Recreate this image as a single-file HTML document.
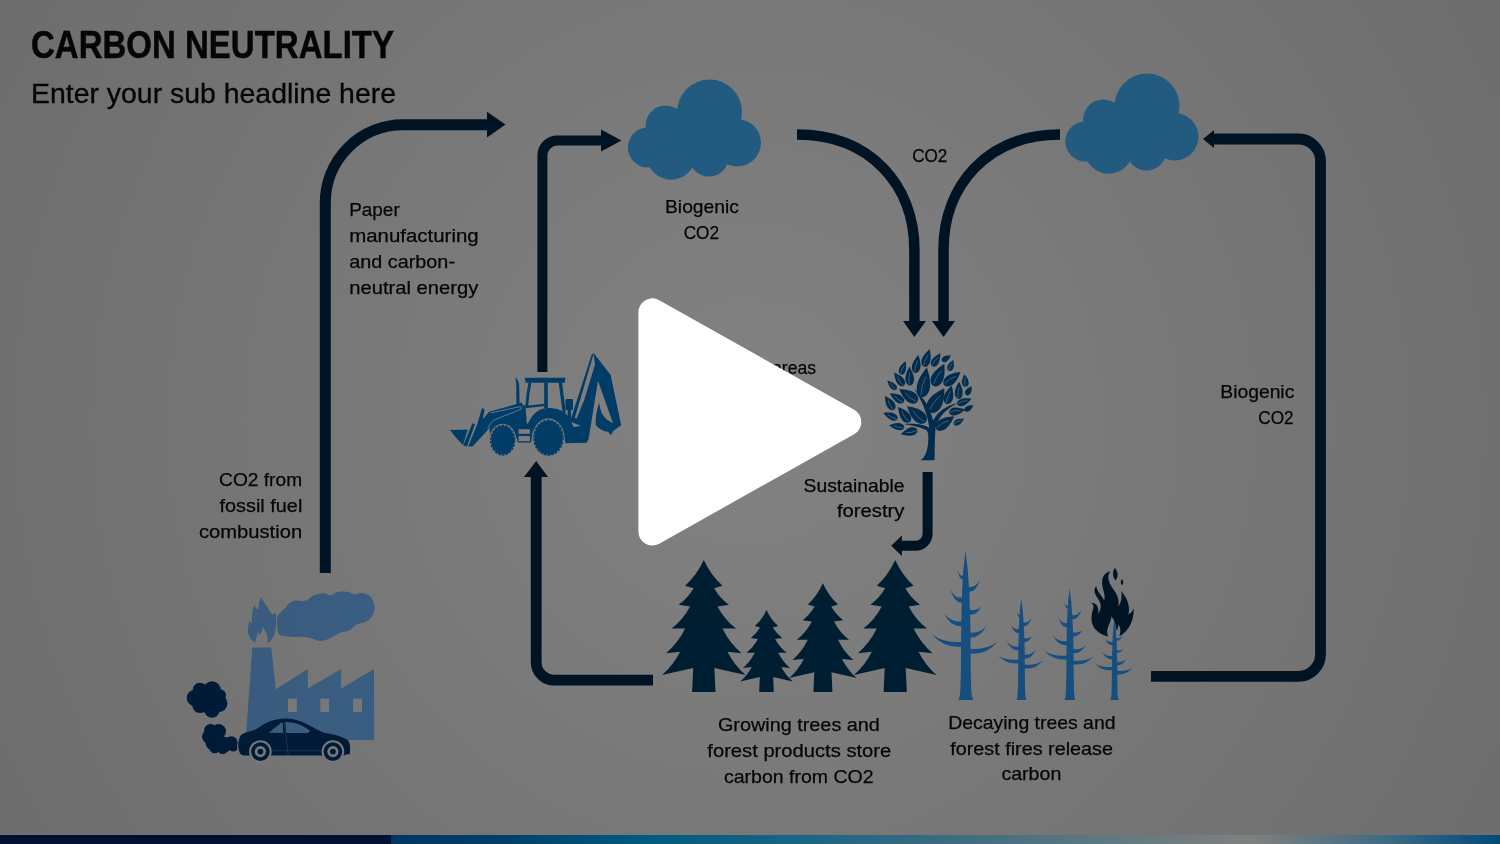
<!DOCTYPE html>
<html lang="en"><head><meta charset="utf-8"><title>Carbon Neutrality</title>
<style>html,body{margin:0;padding:0;background:#7a7a7a;overflow:hidden}svg{display:block}text{font-family:"Liberation Sans",sans-serif}</style>
</head><body>
<svg width="1500" height="844" viewBox="0 0 1500 844">
<defs>
<radialGradient id="bg" cx="750" cy="422" r="860" gradientUnits="userSpaceOnUse">
<stop offset="0" stop-color="#808080"/><stop offset="0.1" stop-color="#808080"/><stop offset="1" stop-color="#6d6d6d"/>
</radialGradient>
<filter id="nf" x="0" y="0" width="1500" height="844" filterUnits="userSpaceOnUse"><feOffset dx="0" dy="0"/></filter>
<linearGradient id="bar" x1="0" x2="1" y1="0" y2="0">
<stop offset="0" stop-color="#003564"/><stop offset="0.1" stop-color="#003f6b"/><stop offset="0.225" stop-color="#005a80"/><stop offset="0.37" stop-color="#1a6585"/><stop offset="0.5" stop-color="#3a6c80"/><stop offset="0.64" stop-color="#5f7880"/><stop offset="0.775" stop-color="#7f8080"/><stop offset="0.9" stop-color="#3d6a82"/><stop offset="1" stop-color="#004a7a"/>
</linearGradient>
<linearGradient id="fg" gradientUnits="userSpaceOnUse" x1="245" x2="375" y1="0" y2="0">
<stop offset="0" stop-color="#385b7e"/><stop offset="1" stop-color="#3a5e81"/>
</linearGradient>
</defs>
<rect width="1500" height="844" fill="url(#bg)"/>
<path d="M325.3 573 V202.7 A78 78 0 0 1 403.3 124.7 H488" fill="none" stroke="#001322" stroke-width="11"/>
<polygon points="487,111.7 505.5,124.6 487,137.5" fill="#001322"/>
<path d="M542.4 372 V155.5 A15 15 0 0 1 557.4 140.5 H602" fill="none" stroke="#001322" stroke-width="10"/>
<polygon points="601,129.5 621.5,140.5 601,151.5" fill="#001322"/>
<path d="M653 680.2 H554.2 A18 18 0 0 1 536.2 662.2 V476" fill="none" stroke="#001322" stroke-width="10.8"/>
<polygon points="524,477 536.2,461 548,477" fill="#001322"/>
<path d="M797 134.6 C870 134.6 914.4 185 914.4 250 V322" fill="none" stroke="#001322" stroke-width="10.5"/>
<polygon points="903,321 926,321 914.4,337" fill="#001322"/>
<path d="M1060 134.6 C988 134.6 943.5 185 943.5 250 V322" fill="none" stroke="#001322" stroke-width="10.5"/>
<polygon points="932,321 955,321 943.5,337" fill="#001322"/>
<path d="M927.6 472 V533.8 A12 12 0 0 1 915.6 545.8 H901" fill="none" stroke="#001322" stroke-width="10"/>
<polygon points="901.9,535.6 891.2,545.8 901.9,556" fill="#001322"/>
<path d="M1151 676.3 H1298.5 A22 22 0 0 0 1320.5 654.3 V161 A22 22 0 0 0 1298.5 139 H1213" fill="none" stroke="#001322" stroke-width="10.8"/>
<polygon points="1214,130 1203,139 1214,148" fill="#001322"/>
<g fill="#225b7f" transform="translate(0 0)"><circle cx="709.6" cy="112" r="32.4"/><circle cx="665.5" cy="125.5" r="19.9"/><circle cx="647.7" cy="147.5" r="19.9"/><circle cx="737.3" cy="142.8" r="23.7"/><circle cx="671.2" cy="155.3" r="24.4"/><circle cx="708.9" cy="156.7" r="19.9"/><circle cx="690" cy="135" r="30"/></g>
<g fill="#225b7f" transform="translate(437.5 -6)"><circle cx="709.6" cy="112" r="32.4"/><circle cx="665.5" cy="125.5" r="19.9"/><circle cx="647.7" cy="147.5" r="19.9"/><circle cx="737.3" cy="142.8" r="23.7"/><circle cx="671.2" cy="155.3" r="24.4"/><circle cx="708.9" cy="156.7" r="19.9"/><circle cx="690" cy="135" r="30"/></g>
<g fill="#013c66"><path d="M450.0 430.0 L467.7 429.6 L463.0 444.9 Q457.1 439.5 450.0 430.0 Z"/><path d="M463.2 445.5 L472.4 423.2 L475.0 424.2 L467.0 446.4 Z"/><path d="M468.2 446.4 L477.3 423.9 L482.1 407.7 L484.6 409.7 L482.7 419.6 L489.1 411.8 L521.8 402.6 L523.9 409.0 L494.0 421.0 L486.9 431.0 L472.4 446.6 Z"/><path d="M489.1 419.6 L519.6 406.8 L525.3 404.7 L527.0 425.3 L525.7 425.3 L528.5 422.5 Q535.6 406.8 550.6 408.0 Q565.5 409.0 570.0 419.6 L571.9 417.5 L581.1 419.6 L588.2 439.5 L586.8 442.7 L565.5 443.2 L562.7 431.0 L532.8 431.0 L531.0 442.4 L517.9 442.4 L516.8 438.1 L490.0 438.1 Z"/><path d="M515.1 377.3 Q518.5 379.8 519.1 384.1 L519.6 404.3 L516.5 405.1 L516.2 382.7 Z"/><path d="M524.7 377.8 L565.5 377.8 L564.6 382.7 L525.7 382.7 Z"/><path d="M528.5 382.4 L531.4 382.4 Q528.8 394.0 528.2 406.8 L525.4 407.4 Q526.0 394.0 528.5 382.4 Z"/><path d="M544.2 382.4 L547.7 382.4 L547.9 408.2 L544.2 408.2 Z"/><path d="M558.7 382.4 L562.1 382.4 L565.8 412.5 L562.7 413.2 Z"/><path d="M525.7 405.7 L545.3 403.7 L545.3 406.0 L525.7 408.2 Z"/><rect x="565.5" y="398.9" width="7.5" height="11.1" rx="1.2"/><path d="M567.6 409.4 L570.8 409.4 L571.2 420.3 L567.6 420.3 Z"/><path d="M571.2 417.9 L591.9 353.9 L593.5 354.2 L574.5 418.9 Z"/><path d="M593.2 352.5 L611.0 375.5 L610.4 382.7 L597.9 380.9 L588.5 439.8 L576.9 431.0 L576.2 419.6 L584.3 399.7 L595.1 364.2 Z"/><path d="M597.9 380.5 L610.7 375.5 L621.2 425.3 L613.1 431.0 L611.0 435.0 L607.9 431.7 Q599.6 431.0 595.6 424.6 Q595.4 413.9 599.1 402.8 Q600.3 413.9 606.7 419.6 L613.1 423.6 Z"/></g><g fill="#7e7e7e"><path d="M518.6 429.2 L529.9 429.2 L529.9 433.8 L518.6 433.8 Z"/><path d="M518.6 436.1 L529.9 436.1 L529.9 441.2 L518.6 441.2 Z"/><path d="M571.2 421.9 L581.1 425.9 L573.7 427.0 Z"/></g><path d="M490.7 412.9 L520.7 406.5 Q522.3 407.6 521 409.2 L493.1 420.3 L487.8 427.7" fill="none" stroke="#7f97a8" stroke-width="0.7" stroke-linejoin="round"/><ellipse cx="502.7" cy="440.2" rx="13.55" ry="16.40" fill="#7e7e7e"/><ellipse cx="502.7" cy="440.2" rx="11.45" ry="14.30" fill="#013c66"/><ellipse cx="502.7" cy="440.2" rx="11.95" ry="14.80" fill="none" stroke="#013c66" stroke-width="1.4" stroke-dasharray="2.76 1.07"/><ellipse cx="548.4" cy="437.7" rx="16.20" ry="19.10" fill="#7e7e7e"/><ellipse cx="548.4" cy="437.7" rx="14.10" ry="17.00" fill="#013c66"/><ellipse cx="548.4" cy="437.7" rx="14.60" ry="17.50" fill="none" stroke="#013c66" stroke-width="1.4" stroke-dasharray="2.80 1.09"/>
<g fill="#012c4e"><g transform="translate(926.8 358.0) rotate(18)"><path d="M0 -9.16 C2.44 -5.04 4.80 0.00 4.22 4.12 C3.55 8.24 1.33 9.16 0 9.16 C-1.33 9.16 -3.55 8.24 -4.22 4.12 C-4.80 0.00 -2.44 -5.04 0 -9.16 Z"/><path d="M-0.67 7.79 Q-1.56 1.83 0.22 -3.21" fill="none" stroke="#6f8796" stroke-width="0.5" stroke-linecap="round"/></g><g transform="translate(916.7 364.0) rotate(10)"><path d="M0 -9.16 C2.44 -5.04 4.80 0.00 4.22 4.12 C3.55 8.24 1.33 9.16 0 9.16 C-1.33 9.16 -3.55 8.24 -4.22 4.12 C-4.80 0.00 -2.44 -5.04 0 -9.16 Z"/><path d="M-0.67 7.79 Q-1.56 1.83 0.22 -3.21" fill="none" stroke="#6f8796" stroke-width="0.5" stroke-linecap="round"/></g><g transform="translate(936.3 359.8) rotate(32)"><path d="M0 -7.63 C2.12 -4.20 4.16 0.00 3.66 3.44 C3.08 6.87 1.16 7.63 0 7.63 C-1.16 7.63 -3.08 6.87 -3.66 3.44 C-4.16 0.00 -2.12 -4.20 0 -7.63 Z"/><path d="M-0.58 6.49 Q-1.35 1.53 0.19 -2.67" fill="none" stroke="#6f8796" stroke-width="0.5" stroke-linecap="round"/></g><g transform="translate(946.4 358.3) rotate(58)"><path d="M0 -5.19 C1.63 -2.86 3.20 0.00 2.81 2.34 C2.37 4.67 0.89 5.19 0 5.19 C-0.89 5.19 -2.37 4.67 -2.81 2.34 C-3.20 0.00 -1.63 -2.86 0 -5.19 Z"/></g><g transform="translate(951.1 365.5) rotate(22)"><path d="M0 -5.80 C1.79 -3.19 3.52 0.00 3.10 2.61 C2.61 5.22 0.98 5.80 0 5.80 C-0.98 5.80 -2.61 5.22 -3.10 2.61 C-3.52 0.00 -1.79 -3.19 0 -5.80 Z"/><path d="M-0.49 4.93 Q-1.14 1.16 0.16 -2.03" fill="none" stroke="#6f8796" stroke-width="0.5" stroke-linecap="round"/></g><g transform="translate(903.1 367.9) rotate(20)"><path d="M0 -7.02 C1.95 -3.86 3.84 0.00 3.38 3.16 C2.84 6.32 1.07 7.02 0 7.02 C-1.07 7.02 -2.84 6.32 -3.38 3.16 C-3.84 0.00 -1.95 -3.86 0 -7.02 Z"/><path d="M-0.53 5.97 Q-1.24 1.40 0.18 -2.46" fill="none" stroke="#6f8796" stroke-width="0.5" stroke-linecap="round"/></g><g transform="translate(909.6 376.2) rotate(-2)"><path d="M0 -9.47 C2.44 -5.21 4.80 0.00 4.22 4.26 C3.55 8.52 1.33 9.47 0 9.47 C-1.33 9.47 -3.55 8.52 -4.22 4.26 C-4.80 0.00 -2.44 -5.21 0 -9.47 Z"/><path d="M-0.67 8.05 Q-1.56 1.89 0.22 -3.31" fill="none" stroke="#6f8796" stroke-width="0.5" stroke-linecap="round"/></g><g transform="translate(899.0 379.1) rotate(-36)"><path d="M0 -8.24 C2.22 -4.53 4.35 0.00 3.83 3.71 C3.22 7.42 1.21 8.24 0 8.24 C-1.21 8.24 -3.22 7.42 -3.83 3.71 C-4.35 0.00 -2.22 -4.53 0 -8.24 Z"/><path d="M-0.60 7.01 Q-1.41 1.65 0.20 -2.89" fill="none" stroke="#6f8796" stroke-width="0.5" stroke-linecap="round"/></g><g transform="translate(891.8 385.0) rotate(-45)"><path d="M0 -6.41 C1.69 -3.53 3.33 0.00 2.93 2.89 C2.46 5.77 0.92 6.41 0 6.41 C-0.92 6.41 -2.46 5.77 -2.93 2.89 C-3.33 0.00 -1.69 -3.53 0 -6.41 Z"/><path d="M-0.46 5.45 Q-1.08 1.28 0.15 -2.24" fill="none" stroke="#6f8796" stroke-width="0.5" stroke-linecap="round"/></g><g transform="translate(924.2 382.3) rotate(10)"><path d="M0 -14.96 C3.75 -8.23 7.36 0.00 6.47 6.73 C5.45 13.47 2.04 14.96 0 14.96 C-2.04 14.96 -5.45 13.47 -6.47 6.73 C-7.36 0.00 -3.75 -8.23 0 -14.96 Z"/><path d="M-1.02 12.72 Q-2.38 2.99 0.34 -5.24" fill="none" stroke="#6f8796" stroke-width="0.5" stroke-linecap="round"/></g><g transform="translate(938.9 375.0) rotate(26)"><path d="M0 -12.21 C3.42 -6.72 6.72 0.00 5.91 5.50 C4.98 10.99 1.87 12.21 0 12.21 C-1.87 12.21 -4.98 10.99 -5.91 5.50 C-6.72 0.00 -3.42 -6.72 0 -12.21 Z"/><path d="M-0.93 10.38 Q-2.18 2.44 0.31 -4.28" fill="none" stroke="#6f8796" stroke-width="0.5" stroke-linecap="round"/></g><g transform="translate(952.3 378.5) rotate(52)"><path d="M0 -10.38 C2.87 -5.71 5.63 0.00 4.95 4.67 C4.17 9.34 1.56 10.38 0 10.38 C-1.56 10.38 -4.17 9.34 -4.95 4.67 C-5.63 0.00 -2.87 -5.71 0 -10.38 Z"/><path d="M-0.78 8.83 Q-1.82 2.08 0.26 -3.63" fill="none" stroke="#6f8796" stroke-width="0.5" stroke-linecap="round"/></g><g transform="translate(965.1 380.5) rotate(-6)"><path d="M0 -6.41 C1.95 -3.53 3.84 0.00 3.38 2.89 C2.84 5.77 1.07 6.41 0 6.41 C-1.07 6.41 -2.84 5.77 -3.38 2.89 C-3.84 0.00 -1.95 -3.53 0 -6.41 Z"/><path d="M-0.53 5.45 Q-1.24 1.28 0.18 -2.24" fill="none" stroke="#6f8796" stroke-width="0.5" stroke-linecap="round"/></g><g transform="translate(958.8 390.4) rotate(2)"><path d="M0 -8.55 C2.22 -4.70 4.35 0.00 3.83 3.85 C3.22 7.70 1.21 8.55 0 8.55 C-1.21 8.55 -3.22 7.70 -3.83 3.85 C-4.35 0.00 -2.22 -4.70 0 -8.55 Z"/><path d="M-0.60 7.27 Q-1.41 1.71 0.20 -2.99" fill="none" stroke="#6f8796" stroke-width="0.5" stroke-linecap="round"/></g><g transform="translate(968.9 390.6) rotate(32)"><path d="M0 -5.19 C1.63 -2.86 3.20 0.00 2.81 2.34 C2.37 4.67 0.89 5.19 0 5.19 C-0.89 5.19 -2.37 4.67 -2.81 2.34 C-3.20 0.00 -1.63 -2.86 0 -5.19 Z"/></g><g transform="translate(949.1 394.8) rotate(15)"><path d="M0 -9.47 C2.67 -5.21 5.25 0.00 4.61 4.26 C3.89 8.52 1.46 9.47 0 9.47 C-1.46 9.47 -3.89 8.52 -4.61 4.26 C-5.25 0.00 -2.67 -5.21 0 -9.47 Z"/><path d="M-0.73 8.05 Q-1.70 1.89 0.24 -3.31" fill="none" stroke="#6f8796" stroke-width="0.5" stroke-linecap="round"/></g><g transform="translate(936.9 400.1) rotate(32)"><path d="M0 -14.05 C4.07 -7.73 8.00 0.00 7.03 6.32 C5.92 12.64 2.22 14.05 0 14.05 C-2.22 14.05 -5.92 12.64 -7.03 6.32 C-8.00 0.00 -4.07 -7.73 0 -14.05 Z"/><path d="M-1.11 11.94 Q-2.59 2.81 0.37 -4.92" fill="none" stroke="#6f8796" stroke-width="0.5" stroke-linecap="round"/></g><g transform="translate(908.4 395.4) rotate(-56)"><path d="M0 -10.99 C3.19 -6.05 6.27 0.00 5.52 4.95 C4.64 9.89 1.74 10.99 0 10.99 C-1.74 10.99 -4.64 9.89 -5.52 4.95 C-6.27 0.00 -3.19 -6.05 0 -10.99 Z"/><path d="M-0.87 9.34 Q-2.03 2.20 0.29 -3.85" fill="none" stroke="#6f8796" stroke-width="0.5" stroke-linecap="round"/></g><g transform="translate(896.8 397.7) rotate(-58)"><path d="M0 -8.24 C2.22 -4.53 4.35 0.00 3.83 3.71 C3.22 7.42 1.21 8.24 0 8.24 C-1.21 8.24 -3.22 7.42 -3.83 3.71 C-4.35 0.00 -2.22 -4.53 0 -8.24 Z"/><path d="M-0.60 7.01 Q-1.41 1.65 0.20 -2.89" fill="none" stroke="#6f8796" stroke-width="0.5" stroke-linecap="round"/></g><g transform="translate(889.5 402.8) rotate(-33)"><path d="M0 -8.24 C2.35 -4.53 4.61 0.00 4.05 3.71 C3.41 7.42 1.28 8.24 0 8.24 C-1.28 8.24 -3.41 7.42 -4.05 3.71 C-4.61 0.00 -2.35 -4.53 0 -8.24 Z"/><path d="M-0.64 7.01 Q-1.49 1.65 0.21 -2.89" fill="none" stroke="#6f8796" stroke-width="0.5" stroke-linecap="round"/></g><g transform="translate(964.4 401.5) rotate(68)"><path d="M0 -7.63 C2.02 -4.20 3.97 0.00 3.49 3.44 C2.94 6.87 1.10 7.63 0 7.63 C-1.10 7.63 -2.94 6.87 -3.49 3.44 C-3.97 0.00 -2.02 -4.20 0 -7.63 Z"/><path d="M-0.55 6.49 Q-1.29 1.53 0.18 -2.67" fill="none" stroke="#6f8796" stroke-width="0.5" stroke-linecap="round"/></g><g transform="translate(969.1 408.0) rotate(58)"><path d="M0 -5.19 C1.50 -2.86 2.94 0.00 2.59 2.34 C2.18 4.67 0.82 5.19 0 5.19 C-0.82 5.19 -2.18 4.67 -2.59 2.34 C-2.94 0.00 -1.50 -2.86 0 -5.19 Z"/></g><g transform="translate(957.3 411.0) rotate(80)"><path d="M0 -8.24 C2.22 -4.53 4.35 0.00 3.83 3.71 C3.22 7.42 1.21 8.24 0 8.24 C-1.21 8.24 -3.22 7.42 -3.83 3.71 C-4.35 0.00 -2.22 -4.53 0 -8.24 Z"/><path d="M-0.60 7.01 Q-1.41 1.65 0.20 -2.89" fill="none" stroke="#6f8796" stroke-width="0.5" stroke-linecap="round"/></g><g transform="translate(916.4 414.1) rotate(-50)"><path d="M0 -12.21 C3.42 -6.72 6.72 0.00 5.91 5.50 C4.98 10.99 1.87 12.21 0 12.21 C-1.87 12.21 -4.98 10.99 -5.91 5.50 C-6.72 0.00 -3.42 -6.72 0 -12.21 Z"/><path d="M-0.93 10.38 Q-2.18 2.44 0.31 -4.28" fill="none" stroke="#6f8796" stroke-width="0.5" stroke-linecap="round"/></g><g transform="translate(903.9 414.5) rotate(-38)"><path d="M0 -9.47 C2.67 -5.21 5.25 0.00 4.61 4.26 C3.89 8.52 1.46 9.47 0 9.47 C-1.46 9.47 -3.89 8.52 -4.61 4.26 C-5.25 0.00 -2.67 -5.21 0 -9.47 Z"/><path d="M-0.73 8.05 Q-1.70 1.89 0.24 -3.31" fill="none" stroke="#6f8796" stroke-width="0.5" stroke-linecap="round"/></g><g transform="translate(890.4 415.9) rotate(-68)"><path d="M0 -7.63 C2.02 -4.20 3.97 0.00 3.49 3.44 C2.94 6.87 1.10 7.63 0 7.63 C-1.10 7.63 -2.94 6.87 -3.49 3.44 C-3.97 0.00 -2.02 -4.20 0 -7.63 Z"/><path d="M-0.55 6.49 Q-1.29 1.53 0.18 -2.67" fill="none" stroke="#6f8796" stroke-width="0.5" stroke-linecap="round"/></g><g transform="translate(945.2 422.6) rotate(55)"><path d="M0 -10.99 C3.00 -6.05 5.89 0.00 5.18 4.95 C4.36 9.89 1.64 10.99 0 10.99 C-1.64 10.99 -4.36 9.89 -5.18 4.95 C-5.89 0.00 -3.00 -6.05 0 -10.99 Z"/><path d="M-0.82 9.34 Q-1.91 2.20 0.27 -3.85" fill="none" stroke="#6f8796" stroke-width="0.5" stroke-linecap="round"/></g><g transform="translate(959.0 421.5) rotate(62)"><path d="M0 -5.80 C1.69 -3.19 3.33 0.00 2.93 2.61 C2.46 5.22 0.92 5.80 0 5.80 C-0.92 5.80 -2.46 5.22 -2.93 2.61 C-3.33 0.00 -1.69 -3.19 0 -5.80 Z"/><path d="M-0.46 4.93 Q-1.08 1.16 0.15 -2.03" fill="none" stroke="#6f8796" stroke-width="0.5" stroke-linecap="round"/></g><g transform="translate(896.6 426.4) rotate(-82)"><path d="M0 -7.63 C2.02 -4.20 3.97 0.00 3.49 3.44 C2.94 6.87 1.10 7.63 0 7.63 C-1.10 7.63 -2.94 6.87 -3.49 3.44 C-3.97 0.00 -2.02 -4.20 0 -7.63 Z"/><path d="M-0.55 6.49 Q-1.29 1.53 0.18 -2.67" fill="none" stroke="#6f8796" stroke-width="0.5" stroke-linecap="round"/></g><g transform="translate(909.0 432.1) rotate(-105)"><path d="M0 -8.55 C2.35 -4.70 4.61 0.00 4.05 3.85 C3.41 7.70 1.28 8.55 0 8.55 C-1.28 8.55 -3.41 7.70 -4.05 3.85 C-4.61 0.00 -2.35 -4.70 0 -8.55 Z"/><path d="M-0.64 7.27 Q-1.49 1.71 0.21 -2.99" fill="none" stroke="#6f8796" stroke-width="0.5" stroke-linecap="round"/></g><path d="M920.5 460.2 C925.6 457.6 928.0 449.3 928.3 439.8 C928.6 435.0 928.0 432.1 926.8 430.5 C921.5 427.6 913.2 425.8 903.7 424.1 C914.4 423.0 923.8 424.4 929.2 427.7 C928.0 416.1 922.7 400.7 913.8 388.8 C923.8 397.1 930.9 409.0 933.1 420.8 C936.9 412.5 946.4 405.4 958.2 403.1 C947.5 408.0 938.6 416.1 935.5 427.9 C934.7 439.8 934.7 451.6 934.6 460.2 Z"/></g>
<path d="M703.8 560.1 Q710.9 575.5 722.5 585.8 L714.1 588.3 Q719.7 598.2 728.9 604.8 L717.5 606.4 Q724.6 619.7 736.1 628.6 L722.5 628.6 Q729.7 643.3 741.5 653.2 L727.5 651.8 Q734.4 665.7 745.6 674.9 L714.4 667.9 L715.5 692.1 L692.1 692.1 L693.2 667.9 L662.0 674.9 Q673.2 665.7 680.1 651.8 L680.1 651.8 L666.1 653.2 Q677.9 643.3 685.1 628.6 L685.1 628.6 L671.5 628.6 Q683.0 619.7 690.1 606.4 L690.1 606.4 L678.7 604.8 Q687.9 598.2 693.5 588.3 L693.5 588.3 L685.1 585.8 Q696.7 575.5 703.8 560.1 Z" fill="#001e32"/>
<path d="M766.5 610.1 Q770.9 619.7 778.2 626.1 L772.9 627.6 Q776.5 633.8 782.2 637.9 L775.1 638.9 Q779.5 647.1 786.8 652.7 L778.2 652.7 Q782.7 661.8 790.1 667.9 L781.3 667.1 Q785.7 675.7 792.7 681.4 L773.2 677.1 L773.8 692.1 L759.2 692.1 L759.8 677.1 L740.3 681.4 Q747.3 675.7 751.7 667.1 L751.7 667.1 L742.9 667.9 Q750.3 661.8 754.8 652.7 L754.8 652.7 L746.2 652.7 Q753.5 647.1 757.9 638.9 L757.9 638.9 L750.8 637.9 Q756.5 633.8 760.1 627.6 L760.1 627.6 L754.8 626.1 Q762.1 619.7 766.5 610.1 Z" fill="#001e32"/>
<path d="M822.9 583.3 Q828.6 596.0 838.0 604.5 L831.2 606.6 Q835.8 614.7 843.2 620.2 L834.0 621.5 Q839.7 632.5 849.0 639.8 L838.0 639.8 Q843.8 651.9 853.4 660.0 L842.0 658.9 Q847.6 670.3 856.7 678.0 L831.5 672.2 L832.4 692.1 L813.4 692.1 L814.3 672.2 L789.1 678.0 Q798.2 670.3 803.8 658.9 L803.8 658.9 L792.4 660.0 Q802.0 651.9 807.8 639.8 L807.8 639.8 L796.8 639.8 Q806.1 632.5 811.8 621.5 L811.8 621.5 L802.6 620.2 Q810.0 614.7 814.6 606.6 L814.6 606.6 L807.8 604.5 Q817.2 596.0 822.9 583.3 Z" fill="#001e32"/>
<path d="M895.2 560.1 Q902.2 575.5 913.6 585.8 L905.3 588.3 Q910.9 598.2 920.0 604.8 L908.7 606.4 Q915.7 619.7 927.1 628.6 L913.6 628.6 Q920.8 643.3 932.5 653.2 L918.6 651.8 Q925.4 665.7 936.5 674.9 L905.7 667.9 L906.8 692.1 L883.6 692.1 L884.7 667.9 L853.9 674.9 Q865.0 665.7 871.8 651.8 L871.8 651.8 L857.9 653.2 Q869.6 643.3 876.8 628.6 L876.8 628.6 L863.3 628.6 Q874.7 619.7 881.7 606.4 L881.7 606.4 L870.4 604.8 Q879.5 598.2 885.1 588.3 L885.1 588.3 L876.8 585.8 Q888.2 575.5 895.2 560.1 Z" fill="#001e32"/>
<path d="M965.5 551.1 L967.7 569.0 L969.3 592.8 L970.4 625.6 L970.7 670.3 L971.2 689.6 Q971.6 697.1 973.4 700.1 H958.3 Q960.0 697.1 960.4 689.6 L960.9 670.3 L961.2 625.6 L962.0 592.8 L963.4 569.0 Z" fill="#164e80"/><path d="M965.8 575.6 L962.7 575.6 Q959.4 576.9 957.2 568.2 Q959.4 580.3 962.7 578.9 L965.8 578.9 Z" fill="#164e80"/><path d="M965.8 597.6 L961.9 597.6 Q954.9 599.0 950.2 589.3 Q954.9 603.8 961.9 602.4 L965.8 602.4 Z" fill="#164e80"/><path d="M965.8 621.2 L961.5 621.2 Q951.1 622.6 944.2 613.5 Q951.1 627.4 961.5 626.0 L965.8 626.0 Z" fill="#164e80"/><path d="M965.8 641.9 L961.1 641.9 Q943.7 643.3 932.1 634.6 Q943.7 648.1 961.1 646.7 L965.8 646.7 Z" fill="#164e80"/><path d="M965.8 586.9 L968.3 586.9 Q975.6 588.4 980.4 579.3 Q975.6 593.2 968.3 591.7 L965.8 591.7 Z" fill="#164e80"/><path d="M965.8 609.7 L968.9 609.7 Q976.4 611.1 981.4 606.4 Q976.4 615.9 968.9 614.5 L965.8 614.5 Z" fill="#164e80"/><path d="M965.8 632.6 L969.5 632.6 Q979.7 634.1 986.4 625.6 Q979.7 638.9 969.5 637.4 L965.8 637.4 Z" fill="#164e80"/><path d="M965.8 648.7 L969.9 648.7 Q986.5 650.2 997.5 641.7 Q986.5 655.0 969.9 653.5 L965.8 653.5 Z" fill="#164e80"/><path d="M1021.3 598.4 L1022.8 610.6 L1023.9 626.9 L1024.7 649.2 L1024.9 679.7 L1025.2 692.9 Q1025.5 697.1 1026.3 700.1 H1016.6 Q1017.5 697.1 1017.7 692.9 L1018.1 679.7 L1018.3 649.2 L1018.9 626.9 L1019.8 610.6 Z" fill="#164e80"/><path d="M1021.5 614.8 L1020.1 614.8 Q1018.0 616.1 1016.6 610.5 Q1018.0 618.8 1020.1 617.4 L1021.5 617.4 Z" fill="#164e80"/><path d="M1021.5 629.1 L1019.3 629.1 Q1014.3 630.5 1011.0 624.6 Q1014.3 634.3 1019.3 632.9 L1021.5 632.9 Z" fill="#164e80"/><path d="M1021.5 646.4 L1018.9 646.4 Q1011.5 647.8 1006.6 640.7 Q1011.5 651.6 1018.9 650.2 L1021.5 650.2 Z" fill="#164e80"/><path d="M1021.5 659.5 L1018.7 659.5 Q1006.6 660.9 998.5 655.8 Q1006.6 664.7 1018.7 663.3 L1021.5 663.3 Z" fill="#164e80"/><path d="M1021.5 622.3 L1023.1 622.3 Q1028.3 623.6 1031.7 617.5 Q1028.3 627.4 1023.1 626.1 L1021.5 626.1 Z" fill="#164e80"/><path d="M1021.5 638.0 L1023.5 638.0 Q1028.4 639.3 1031.7 636.6 Q1028.4 643.1 1023.5 641.8 L1021.5 641.8 Z" fill="#164e80"/><path d="M1021.5 654.5 L1023.9 654.5 Q1031.0 655.9 1035.8 649.7 Q1031.0 659.7 1023.9 658.3 L1021.5 658.3 Z" fill="#164e80"/><path d="M1021.5 664.5 L1024.3 664.5 Q1035.4 665.9 1042.8 660.8 Q1035.4 669.7 1024.3 668.3 L1021.5 668.3 Z" fill="#164e80"/><path d="M1069.6 588.3 L1071.3 601.7 L1072.5 619.6 L1073.5 644.2 L1073.7 677.7 L1074.0 692.2 Q1074.3 697.1 1075.4 700.1 H1064.6 Q1065.6 697.1 1065.9 692.2 L1066.3 677.7 L1066.5 644.2 L1067.1 619.6 L1068.1 601.7 Z" fill="#164e80"/><path d="M1070.0 605.6 L1068.4 605.6 Q1065.7 607.0 1064.0 601.4 Q1065.7 609.8 1068.4 608.4 L1070.0 608.4 Z" fill="#164e80"/><path d="M1070.0 623.0 L1067.6 623.0 Q1062.0 624.4 1058.3 617.5 Q1062.0 628.4 1067.6 627.0 L1070.0 627.0 Z" fill="#164e80"/><path d="M1070.0 641.1 L1067.2 641.1 Q1058.6 642.5 1052.9 635.6 Q1058.6 646.5 1067.2 645.1 L1070.0 645.1 Z" fill="#164e80"/><path d="M1070.0 655.4 L1066.8 655.4 Q1053.4 656.8 1044.4 650.7 Q1053.4 660.8 1066.8 659.4 L1070.0 659.4 Z" fill="#164e80"/><path d="M1070.0 615.1 L1071.4 615.1 Q1077.6 616.5 1081.7 609.5 Q1077.6 620.5 1071.4 619.1 L1070.0 619.1 Z" fill="#164e80"/><path d="M1070.0 632.2 L1072.0 632.2 Q1078.0 633.6 1082.1 630.6 Q1078.0 637.6 1072.0 636.2 L1070.0 636.2 Z" fill="#164e80"/><path d="M1070.0 649.1 L1072.4 649.1 Q1080.6 650.5 1086.1 644.7 Q1080.6 654.5 1072.4 653.1 L1070.0 653.1 Z" fill="#164e80"/><path d="M1070.0 660.4 L1072.8 660.4 Q1085.3 661.8 1093.5 656.4 Q1085.3 665.8 1072.8 664.4 L1070.0 664.4 Z" fill="#164e80"/><path d="M1114.5 617.5 L1115.7 627.4 L1116.6 640.6 L1117.2 658.8 L1117.4 683.5 L1117.6 694.3 Q1117.8 697.1 1118.9 700.1 H1110.3 Q1111.3 697.1 1111.5 694.3 L1111.8 683.5 L1112.0 658.8 L1112.5 640.6 L1113.3 627.4 Z" fill="#164e80"/><path d="M1114.6 641.6 L1113.3 641.6 Q1108.4 643.0 1105.2 638.7 Q1108.4 646.4 1113.3 645.0 L1114.6 645.0 Z" fill="#164e80"/><path d="M1114.6 655.7 L1112.9 655.7 Q1106.5 657.0 1102.2 651.7 Q1106.5 660.4 1112.9 659.1 L1114.6 659.1 Z" fill="#164e80"/><path d="M1114.6 666.7 L1112.5 666.7 Q1102.1 668.1 1095.2 663.8 Q1102.1 671.5 1112.5 670.1 L1114.6 670.1 Z" fill="#164e80"/><path d="M1114.6 638.1 L1115.7 638.1 Q1120.3 639.4 1123.3 634.6 Q1120.3 641.8 1115.7 640.4 L1114.6 640.4 Z" fill="#164e80"/><path d="M1114.6 650.1 L1115.9 650.1 Q1120.4 651.5 1123.3 648.7 Q1120.4 653.8 1115.9 652.5 L1114.6 652.5 Z" fill="#164e80"/><path d="M1114.6 661.7 L1116.1 661.7 Q1122.3 663.1 1126.4 658.8 Q1122.3 666.5 1116.1 665.1 L1114.6 665.1 Z" fill="#164e80"/><path d="M1114.6 670.8 L1116.5 670.8 Q1126.0 672.1 1132.4 667.8 Q1126.0 675.5 1116.5 674.2 L1114.6 674.2 Z" fill="#164e80"/>
<path d="M1108.2 636.6 C1097.2 633.6 1089.1 626.6 1092.1 612.5 C1093.5 607.4 1094.8 605.4 1091.1 602.4 C1097.2 603.4 1099.2 607.4 1098.2 613.5 C1102.2 608.5 1101.2 602.4 1097.2 597.4 C1094.1 592.3 1093.5 589.3 1096.2 585.9 C1097.2 592.3 1102.2 595.4 1104.2 600.4 C1106.2 594.4 1101.2 588.3 1102.2 580.3 C1102.8 575.2 1106.2 572.2 1110.3 571.2 C1106.2 577.2 1109.2 583.3 1113.3 589.3 C1118.3 596.4 1119.3 600.4 1118.3 606.4 C1121.3 602.4 1122.3 597.4 1121.3 591.3 C1127.4 598.4 1130.4 606.4 1128.4 614.5 C1130.4 613.5 1132.4 611.5 1133.8 608.5 C1133.8 620.5 1129.4 630.6 1119.3 636.2 C1121.3 631.6 1120.3 626.6 1118.3 624.6 C1118.3 627.6 1117.3 629.6 1116.3 630.6 C1116.3 624.6 1114.3 619.5 1111.3 616.5 C1111.3 620.5 1109.2 623.6 1108.2 626.6 C1106.8 630.6 1106.8 633.6 1108.2 636.6 Z" fill="#001322"/><path d="M1114.9 567.8 C1118.3 572.2 1118.3 577.2 1115.7 580.3 C1112.3 577.2 1112.3 572.2 1114.9 567.8 Z" fill="#001322"/><path d="M1121.9 578.7 C1123.7 581.3 1123.7 583.9 1122.1 585.3 C1120.3 583.3 1120.5 580.9 1121.9 578.7 Z" fill="#001322"/>
<g fill="url(#fg)"><path d="M252.3 647.6 L271.3 647.6 L275.8 689.2 L307.8 668.9 L307.8 688.5 L341.1 668.9 L341.1 688.5 L374.0 668.9 L374.0 739.9 L245.7 739.9 Z"/><path d="M277.2 617.2 C277.8 614.8 279.4 613.6 280.8 612.0 C282.1 610.4 284.1 609.2 285.5 607.7 C286.9 606.3 287.7 604.7 289.3 603.5 C290.9 602.3 292.8 601.1 295.0 600.6 C297.2 600.2 300.4 601.1 302.6 600.9 C304.7 600.8 305.9 600.6 307.8 599.7 C309.7 598.7 311.3 596.3 313.9 595.2 C316.5 594.2 320.6 593.3 323.4 593.3 C326.3 593.3 328.5 595.5 331.0 595.2 C333.5 595.0 335.7 592.4 338.6 591.8 C341.4 591.3 345.5 591.6 348.1 592.0 C350.7 592.5 351.8 594.3 354.2 594.5 C356.6 594.6 359.5 592.6 362.3 593.0 C365.0 593.4 368.8 594.5 370.8 596.8 C372.9 599.2 374.4 603.6 374.6 606.8 C374.8 610.0 373.6 613.4 372.2 615.8 C370.9 618.3 369.1 620.0 366.5 621.5 C363.9 623.0 359.4 623.1 356.6 624.6 C353.7 626.1 352.3 629.1 349.5 630.5 C346.6 631.9 342.6 631.6 339.5 632.9 C336.4 634.1 334.2 636.5 331.0 637.9 C327.8 639.3 323.7 641.0 320.6 641.1 C317.4 641.2 315.0 639.4 312.0 638.6 C309.0 637.9 305.7 637.0 302.6 636.8 C299.4 636.5 296.1 637.0 293.1 636.9 C290.1 636.8 286.9 636.6 284.5 636.2 C282.2 635.7 280.1 635.9 278.9 634.3 C277.6 632.7 277.4 629.5 277.2 626.7 C276.9 623.9 276.6 619.7 277.2 617.2 Z"/><path d="M255.2 643.0 C249.5 639.0 246.6 632.4 248.3 626.7 C248.7 623.9 249.0 622.4 249.3 620.8 C250.2 622.4 251.2 622.9 252.1 622.9 C251.4 616.3 252.3 610.6 254.2 605.1 C255.2 607.7 256.6 609.2 258.2 609.8 C258.5 604.9 259.4 600.6 261.3 596.6 C263.2 603.0 268.4 607.7 271.8 613.9 C273.2 613.9 274.6 613.4 275.7 612.7 C276.8 621.0 276.5 629.5 273.6 636.2 C272.2 639.5 269.9 641.9 267.3 643.5 C268.9 638.1 266.5 632.4 262.6 626.5 C262.3 630.5 261.3 632.9 260.1 634.5 C259.4 633.8 258.8 633.2 258.0 632.2 C257.1 635.2 256.1 639.0 255.2 643.0 Z"/></g><g fill="#787878"><rect x="288.0" y="698.7" width="8.9" height="13.3"/><rect x="320.3" y="698.7" width="8.8" height="13.3"/><rect x="353.1" y="698.7" width="8.9" height="13.3"/></g>
<g fill="#001b38"><path d="M238.7 749.3 C237.6 744.7 238.7 739.3 240.3 736.0 C242.0 733.3 246.7 732.0 254.7 730.0 C258.7 728.0 262.0 725.3 266.0 723.1 C272.0 720.0 278.7 718.7 286.7 718.5 C294.7 718.7 301.3 721.3 308.0 724.7 C313.3 727.3 318.7 730.7 324.0 732.7 C332.0 733.7 340.0 735.6 346.7 739.3 C349.3 741.3 350.4 744.7 350.1 748.7 L349.9 754.0 L344.7 754.8 L344.7 755.6 L244.0 755.6 C240.7 755.3 239.3 752.7 238.7 749.3 Z"/><circle cx="200.0" cy="690.0" r="7.3"/><circle cx="212.0" cy="690.0" r="8.7"/><circle cx="194.7" cy="698.0" r="8.0"/><circle cx="206.7" cy="700.7" r="12.0"/><circle cx="218.7" cy="703.3" r="8.7"/><circle cx="212.0" cy="710.0" r="7.7"/><circle cx="200.0" cy="705.3" r="7.7"/><circle cx="220.0" cy="695.3" r="6.0"/><circle cx="210.7" cy="730.7" r="6.7"/><circle cx="218.7" cy="731.3" r="7.3"/><circle cx="208.7" cy="736.7" r="6.7"/><circle cx="214.7" cy="742.0" r="9.3"/><circle cx="224.0" cy="744.7" r="8.0"/><circle cx="231.3" cy="742.7" r="6.4"/><circle cx="222.7" cy="748.7" r="5.3"/><circle cx="233.3" cy="747.6" r="4.0"/><circle cx="214.7" cy="748.0" r="5.3"/></g><g fill="#395c7f"><path d="M268.7 732.7 L281.1 722.7 L282.7 722.4 L283.3 732.9 Z"/><path d="M285.3 722.0 C294.7 722.0 302.7 725.3 310.0 730.7 L308.3 732.9 L286.4 732.9 Z"/></g><path d="M284.3 722.3 L288.3 755.3" stroke="#2a4a6e" stroke-width="0.5" fill="none"/><path d="M272.0 750.7 L321.3 750.7" stroke="#2a4a6e" stroke-width="0.5" fill="none"/><circle cx="260.4" cy="751.6" r="11.3" fill="#787878"/><circle cx="260.4" cy="751.6" r="9.3" fill="#001b38"/><circle cx="260.4" cy="751.6" r="5.6" fill="#787878"/><circle cx="260.4" cy="751.6" r="2.9" fill="#001b38"/><circle cx="332.9" cy="751.6" r="11.3" fill="#787878"/><circle cx="332.9" cy="751.6" r="9.3" fill="#001b38"/><circle cx="332.9" cy="751.6" r="5.6" fill="#787878"/><circle cx="332.9" cy="751.6" r="2.9" fill="#001b38"/>
<g filter="url(#nf)" fill="#050505" stroke="#050505" font-family="'Liberation Sans', sans-serif"><text x="31" y="58.2" font-size="38" text-anchor="start" font-weight="bold" stroke-width="0.5" textLength="363" lengthAdjust="spacingAndGlyphs">CARBON NEUTRALITY</text><text x="31" y="103.3" font-size="27.5" text-anchor="start" font-weight="normal" stroke-width="0.3" textLength="365" lengthAdjust="spacingAndGlyphs">Enter your sub headline here</text><text x="349.2" y="215.6" font-size="19" text-anchor="start" font-weight="normal" stroke-width="0.25" textLength="50.5" lengthAdjust="spacingAndGlyphs">Paper</text><text x="349.2" y="241.6" font-size="19" text-anchor="start" font-weight="normal" stroke-width="0.25" textLength="129.5" lengthAdjust="spacingAndGlyphs">manufacturing</text><text x="349.2" y="268" font-size="19" text-anchor="start" font-weight="normal" stroke-width="0.25" textLength="105.8" lengthAdjust="spacingAndGlyphs">and carbon-</text><text x="349.2" y="294.3" font-size="19" text-anchor="start" font-weight="normal" stroke-width="0.25" textLength="129.2" lengthAdjust="spacingAndGlyphs">neutral energy</text><text x="665" y="212.7" font-size="19" text-anchor="start" font-weight="normal" stroke-width="0.25" textLength="73.9" lengthAdjust="spacingAndGlyphs">Biogenic</text><text x="683.7" y="238.8" font-size="19" text-anchor="start" font-weight="normal" stroke-width="0.25" textLength="35.4" lengthAdjust="spacingAndGlyphs">CO2</text><text x="912.2" y="161.7" font-size="19" text-anchor="start" font-weight="normal" stroke-width="0.25" textLength="35.1" lengthAdjust="spacingAndGlyphs">CO2</text><text x="1220.3" y="397.7" font-size="19" text-anchor="start" font-weight="normal" stroke-width="0.25" textLength="74" lengthAdjust="spacingAndGlyphs">Biogenic</text><text x="1258.3" y="423.9" font-size="19" text-anchor="start" font-weight="normal" stroke-width="0.25" textLength="35.3" lengthAdjust="spacingAndGlyphs">CO2</text><text x="219.1" y="486.3" font-size="19" text-anchor="start" font-weight="normal" stroke-width="0.25" textLength="83" lengthAdjust="spacingAndGlyphs">CO2 from</text><text x="219.5" y="512.4" font-size="19" text-anchor="start" font-weight="normal" stroke-width="0.25" textLength="82.8" lengthAdjust="spacingAndGlyphs">fossil fuel</text><text x="199" y="538.2" font-size="19" text-anchor="start" font-weight="normal" stroke-width="0.25" textLength="103.1" lengthAdjust="spacingAndGlyphs">combustion</text><text x="687" y="373.7" font-size="19" text-anchor="start" font-weight="normal" stroke-width="0.25" textLength="129" lengthAdjust="spacingAndGlyphs">Harvested areas</text><text x="803.5" y="491.7" font-size="19" text-anchor="start" font-weight="normal" stroke-width="0.25" textLength="101" lengthAdjust="spacingAndGlyphs">Sustainable</text><text x="836.9" y="516.9" font-size="19" text-anchor="start" font-weight="normal" stroke-width="0.25" textLength="67.6" lengthAdjust="spacingAndGlyphs">forestry</text><text x="717.9" y="731.1" font-size="19" text-anchor="start" font-weight="normal" stroke-width="0.25" textLength="162" lengthAdjust="spacingAndGlyphs">Growing trees and</text><text x="707.3" y="756.9" font-size="19" text-anchor="start" font-weight="normal" stroke-width="0.25" textLength="184" lengthAdjust="spacingAndGlyphs">forest products store</text><text x="724" y="782.6" font-size="19" text-anchor="start" font-weight="normal" stroke-width="0.25" textLength="149.6" lengthAdjust="spacingAndGlyphs">carbon from CO2</text><text x="948.3" y="728.9" font-size="19" text-anchor="start" font-weight="normal" stroke-width="0.25" textLength="167.2" lengthAdjust="spacingAndGlyphs">Decaying trees and</text><text x="950.2" y="754.7" font-size="19" text-anchor="start" font-weight="normal" stroke-width="0.25" textLength="162.8" lengthAdjust="spacingAndGlyphs">forest fires release</text><text x="1001.4" y="780.4" font-size="19" text-anchor="start" font-weight="normal" stroke-width="0.25" textLength="59.9" lengthAdjust="spacingAndGlyphs">carbon</text></g>
<path d="M652.4 312.4 L652.4 531.5 L847.3 421.95 Z" fill="#fff" stroke="#fff" stroke-width="28" stroke-linejoin="round"/>
<rect x="0" y="835" width="391" height="9" fill="#001030"/>
<rect x="391" y="835" width="1109" height="9" fill="url(#bar)"/>
</svg>
</body></html>
